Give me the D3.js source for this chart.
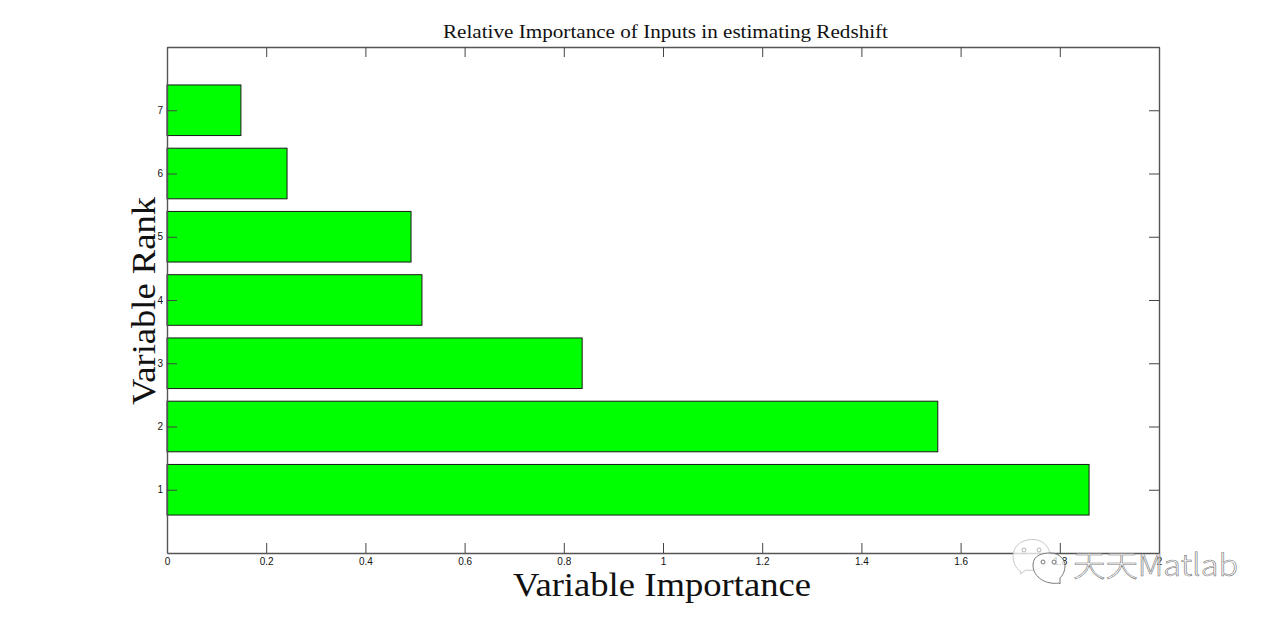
<!DOCTYPE html>
<html>
<head>
<meta charset="utf-8">
<script src="https://d3js.org/d3.v7.min.js"></script>
<style>
  html, body { margin: 0; background: #fff; }
  svg { display: block; }
  .tick text { font-family: "Liberation Sans", sans-serif; font-size: 10px; fill: #111; }
  .serif { font-family: "Liberation Serif", serif; fill: #111; }
</style>
</head>
<body>
<div id="chart"></div>
<script>
  const ranks = [1, 2, 3, 4, 5, 6, 7];
  const importance = [1.859, 1.554, 0.837, 0.514, 0.492, 0.242, 0.149];
  const xTicks = [0, 0.2, 0.4, 0.6, 0.8, 1, 1.2, 1.4, 1.6, 1.8, 2];
  const titleText = "Relative Importance of Inputs in estimating Redshift";
  const xLabel = "Variable Importance";
  const yLabel = "Variable Rank";

  const plotLeft = 167, plotRight = 1159, plotTop = 47, plotBottom = 553;

  const x = d3.scaleLinear().domain([0, 2]).range([plotLeft, plotRight]);
  const y = d3.scaleLinear().domain([0, 8]).range([plotBottom, plotTop]);
  const barHeight = y(0) - y(0.8);

  const svg = d3.select("#chart").append("svg")
    .attr("width", 1280)
    .attr("height", 621);

  // bars
  svg.append("g")
    .selectAll("rect")
    .data(ranks)
    .join("rect")
    .attr("x", x(0))
    .attr("y", d => y(d) - barHeight / 2)
    .attr("width", (d, i) => x(importance[i]) - x(0))
    .attr("height", barHeight)
    .attr("fill", "#00ff00")
    .attr("stroke", "#1a1a1a")
    .attr("stroke-width", 1);

  // box with inward ticks on all four sides, like matlab
  const tickLen = 10;
  const tickFmt = d => String(d);
  const axes = [
    [d3.axisBottom(x).tickValues(xTicks).tickFormat(tickFmt), 0, plotBottom],
    [d3.axisTop(x).tickValues(xTicks).tickFormat(""), 0, plotTop],
    [d3.axisLeft(y).tickValues(ranks).tickFormat(tickFmt), plotLeft, 0],
    [d3.axisRight(y).tickValues(ranks).tickFormat(""), plotRight, 0]
  ];
  axes.forEach(([axis, tx, ty]) => {
    const g = svg.append("g")
      .attr("transform", `translate(${tx},${ty})`)
      .call(axis.tickSizeOuter(0).tickSizeInner(-tickLen));
    g.select(".domain").attr("stroke", "#555").attr("stroke-width", 1.4);
    g.selectAll(".tick line").attr("stroke", "#444");
    g.selectAll(".tick text").each(function () {
      // labels sit just outside the box, not past the inward tick
      const t = d3.select(this);
      if (t.attr("dy") === "0.71em") t.attr("y", 5);
      else t.attr("x", -4);
    });
  });

  // titles
  svg.append("text")
    .attr("class", "serif")
    .attr("x", 665.5)
    .attr("y", 38)
    .attr("text-anchor", "middle")
    .attr("font-size", 18)
    .attr("textLength", 445)
    .attr("lengthAdjust", "spacingAndGlyphs")
    .text(titleText);

  svg.append("text")
    .attr("class", "serif")
    .attr("x", 662)
    .attr("y", 596)
    .attr("text-anchor", "middle")
    .attr("font-size", 34)
    .attr("textLength", 298)
    .attr("lengthAdjust", "spacingAndGlyphs")
    .text(xLabel);

  svg.append("text")
    .attr("class", "serif")
    .attr("transform", "translate(155,301) rotate(-90)")
    .attr("text-anchor", "middle")
    .attr("font-size", 34)
    .attr("textLength", 208)
    .attr("lengthAdjust", "spacingAndGlyphs")
    .text(yLabel);

  // watermark
  const wm = svg.append("g").attr("fill", "rgba(255,255,255,0.75)");
  wm.append("path")
    .attr("d", "M1021,572 C1010,564 1010,546 1024,541 C1038,536 1050,544 1050,556 C1050,566 1036,572 1026,570 L1020,574 Z")
    .attr("stroke", "#c8c8c8");
  wm.selectAll("circle.back").data([1024, 1039]).join("circle")
    .attr("class", "back").attr("cx", d => d).attr("cy", 550).attr("r", 2)
    .attr("stroke", "#b5b5b5");
  wm.append("path")
    .attr("d", "M1059,583 C1047,585 1033,578 1033,565 C1033,555 1043,553 1050,553 C1060,553 1065,560 1065,566 C1065,572 1062,576 1060,578 L1060,584 Z")
    .attr("stroke", "#777");
  wm.selectAll("circle.front").data([1043, 1054]).join("circle")
    .attr("class", "front").attr("cx", d => d).attr("cy", 562).attr("r", 2)
    .attr("stroke", "#777");
  wm.append("text")
    .attr("x", 1073)
    .attr("y", 576)
    .attr("font-family", "'Noto Sans CJK SC', sans-serif")
    .attr("font-size", 30)
    .attr("font-weight", 300)
    .attr("stroke", "#777")
    .attr("stroke-width", 0.6)
    .attr("textLength", 165)
    .attr("lengthAdjust", "spacingAndGlyphs")
    .text("天天Matlab");
</script>
</body>
</html>
